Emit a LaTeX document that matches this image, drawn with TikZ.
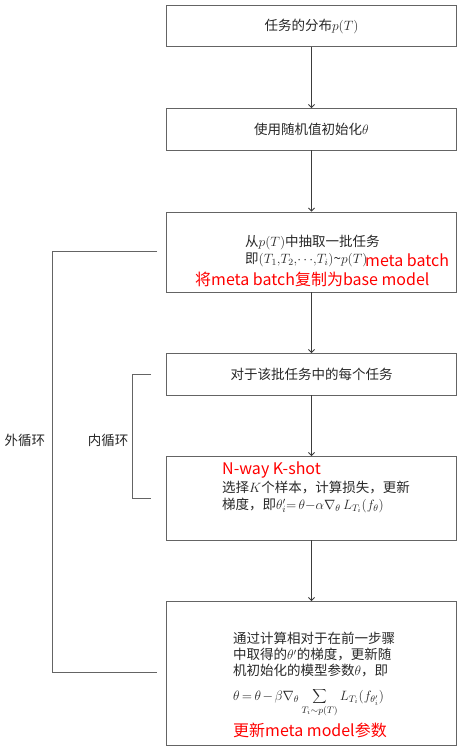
\documentclass[tikz,border=0pt]{standalone}
\usepackage{fix-cm}
\usepackage{fontspec}
\setmainfont{Noto Sans CJK SC}
\usetikzlibrary{arrows.meta}
\definecolor{lg}{RGB}{100,100,100}
\definecolor{ag}{RGB}{60,60,60}
\definecolor{tc}{RGB}{40,40,40}
\definecolor{rd}{RGB}{255,0,0}
\begin{document}
\begin{tikzpicture}[x=1pt,y=-1pt,
  box/.style={draw=lg, line width=0.9pt, minimum width=290pt, inner sep=0pt},
  txt/.style={inner sep=0pt, font=\fontsize{13.5}{16}\selectfont, text=tc, anchor=west},
  redtxt/.style={inner sep=0pt, font=\fontsize{16}{19}\selectfont, text=rd, anchor=west},
  arr/.style={draw=ag, line width=0.8pt, -{Straight Barb[length=3pt,width=6pt]}},
  brk/.style={draw=lg, line width=1pt}]
\useasboundingbox (0,0) rectangle (465,750);
\fill[white] (0,0) rectangle (465,750);

% boxes
\node[box, minimum height=41.5pt] (b1) at (311.5,25.75) {};
\node[box, minimum height=41.5pt] (b2) at (311.5,129.25) {};
\node[box, minimum height=80pt] (b3) at (311.5,252) {};
\node[box, minimum height=41.5pt] (b4) at (311.5,374.25) {};
\node[box, minimum height=83.5pt] (b5) at (311.5,498.25) {};
\node[box, minimum height=143.5pt] (b6) at (311.5,673.25) {};

% arrows
\draw[arr] (b1) -- (b2);
\draw[arr] (b2) -- (b3);
\draw[arr] (b3) -- (b4);
\draw[arr] (b4) -- (b5);
\draw[arr] (b5) -- (b6);

% texts
\node[txt, anchor=center] (t1) at (311.5,26) {任务的分布$p(T)$};
\node[txt, anchor=center] (t2) at (311.5,129) {使用随机值初始化$\theta$};

\node[txt] (t3a) at (245,243) {从$p(T)$中抽取一批任务};
\node[txt] (t3b) at (245,260) {即$(T_1{,}T_2{,}{\cdots}{,}T_i)${\textasciitilde}$p(T)$};
\node[redtxt] (t3c) at (365,260) {meta batch};
\node[redtxt] (t3d) at (195,279) {将meta batch复制为base model};

\node[txt, anchor=center] (t4) at (311.5,374) {对于该批任务中的每个任务};

\node[redtxt] (t5a) at (222,470) {N-way K-shot};
\node[txt] (t5b) at (222,488) {选择$K$个样本，计算损失，更新};
\node[txt] (t5c) at (222,505) {梯度，即$\theta'_i{=}\,\theta{-}\alpha\nabla_\theta\, L_{T_i}(f_\theta)$};

\node[txt] (t6a) at (233,638) {通过计算相对于在前一步骤};
\node[txt] (t6b) at (233,655) {中取得的$\theta'$的梯度，更新随};
\node[txt] (t6c) at (233,671) {机初始化的模型参数$\theta$，即};
\node[txt, anchor=base west] (t6d) at (233,700) {$\medmuskip=2mu\thickmuskip=3mu\displaystyle \theta = \theta - \beta\nabla_\theta \sum_{T_i\sim p(T)} L_{T_i}(f_{\theta'_i})$};
\node[redtxt] (t6e) at (233,730) {更新meta model参数};

% brackets
\coordinate (o1) at (157,251.7);
\coordinate (o2) at (52.3,251.7);
\coordinate (o3) at (52.3,672.7);
\coordinate (o4) at (157,672.7);
\draw[brk] (o1) -- (o2) -- (o3) -- (o4);
\coordinate (i1) at (151,374);
\coordinate (i2) at (132.7,374);
\coordinate (i3) at (132.7,498.3);
\coordinate (i4) at (151,498.3);
\draw[brk] (i1) -- (i2) -- (i3) -- (i4);

\node[txt, anchor=center] (outer) at (25,440) {外循环};
\node[txt, anchor=center] (inner) at (108,440) {内循环};
\end{tikzpicture}
\end{document}
